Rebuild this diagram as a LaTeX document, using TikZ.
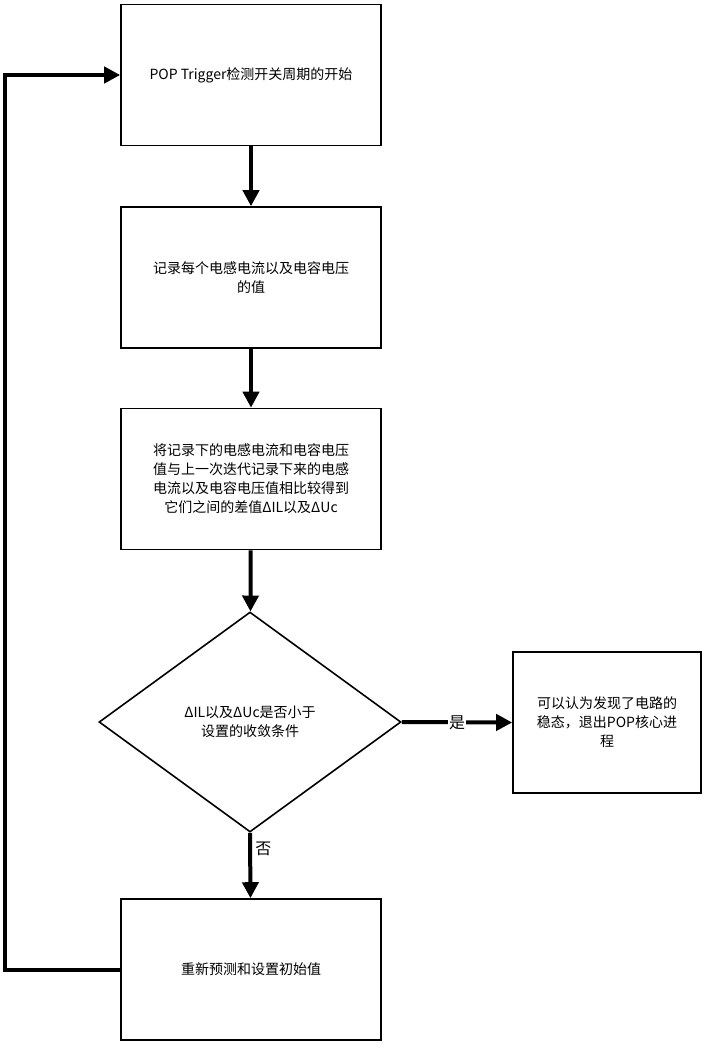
\documentclass[tikz,border=0pt]{standalone}
\usepackage{fontspec}
\setmainfont{Noto Sans CJK SC}
\usetikzlibrary{arrows.meta,shapes.geometric}
\begin{document}
\begin{tikzpicture}[x=1pt,y=-1pt,
  box/.style={draw,line width=1.6pt,minimum width=260pt,minimum height=141pt,align=center,font=\fontsize{14}{19}\selectfont,inner sep=0pt},
  arr/.style={line width=4pt,-{Triangle[length=16pt,width=16pt]}}]
\useasboundingbox (0,0) rectangle (709,1051);
\node[box] (b1) at (251,75) {POP Trigger检测开关周期的开始};
\node[box] (b2) at (251,277.5) {记录每个电感电流以及电容电压\\的值};
\node[box] (b3) at (251,479) {将记录下的电感电流和电容电压\\值与上一次迭代记录下来的电感\\电流以及电容电压值相比较得到\\它们之间的差值ΔIL以及ΔUc};
\node[draw,line width=1.6pt,diamond,aspect=1.3727,minimum width=302pt,minimum height=220pt,inner sep=0pt] (d) at (250,722) {};
\node[align=center,font=\fontsize{14}{19}\selectfont] at (d) {ΔIL以及ΔUc是否小于\\设置的收敛条件};
\node[box,minimum width=188pt] (r) at (607,722.5) {可以认为发现了电路的\\稳态，退出POP核心进\\程};
\node[box] (b5) at (251,969.5) {重新预测和设置初始值};
\draw[arr] (b1) -- (b2);
\draw[arr] (b2) -- (b3);
\draw[arr] (b3) -- (d);
\draw[arr] (d.east) -- (r.west) node[pos=0.5,fill=white,inner sep=1pt,font=\fontsize{16}{18}\selectfont] {是};
\draw[arr] (d.south) -- (b5) node[pos=0.25,right,font=\fontsize{16}{18}\selectfont] {否};
\coordinate (c1) at (5,969.5);
\coordinate (c2) at (5,75);
\draw[arr] (b5.west) -- (c1) -- (c2) -- (b1.west);
\end{tikzpicture}
\end{document}
